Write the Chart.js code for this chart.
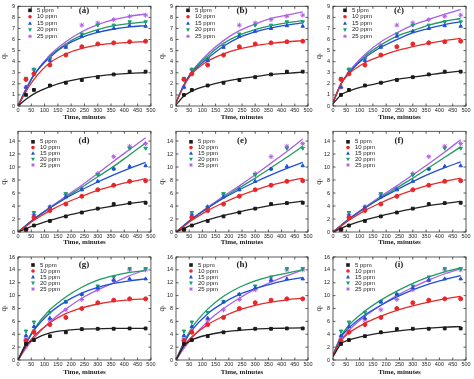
<!DOCTYPE html>
<html><head><meta charset="utf-8">
<script src="https://cdn.jsdelivr.net/npm/chart.js@4/dist/chart.umd.min.js"></script>
<style>
html,body{margin:0;padding:0;background:#fff;width:474px;height:379px;overflow:hidden;}
canvas{position:absolute;}
</style></head><body>
<script>
// ---------------- DATA ----------------
const series = ['5 ppm','10 ppm','15 ppm','20 ppm','25 ppm'];
const panelLabels = ['(a)','(b)','(c)','(d)','(e)','(f)','(g)','(h)','(i)'];
const times = [30,60,120,180,240,300,360,420,480];
const fitX = [0,30,60,120,180,240,300,360,420,480];
const xTicks = [0,50,100,150,200,250,300,350,400,450,500];
const yTicksRow1 = [0,1,2,3,4,5,6,7,8,9];
const yTicksRow2 = [0,2,4,6,8,10,12,14];
const yTicksRow3 = [0,2,4,6,8,10,12,14,16];

// experimental points (rows share the same data)
const ptsRow1 = [
  [1.0,1.45,1.85,2.1,2.35,2.6,2.85,3.1,3.1],
  [2.4,2.9,3.7,4.6,5.35,5.6,5.7,5.8,5.85],
  [1.7,3.0,4.1,5.3,6.3,6.75,7.0,7.25,7.2],
  [2.5,3.3,4.3,5.4,6.5,7.3,7.3,7.6,7.6],
  [1.7,3.3,4.3,5.5,7.3,7.5,7.8,8.1,8.2]
];
const ptsRow2 = [
  [0.4,1.0,1.7,2.4,3.0,3.6,4.3,4.45,4.5],
  [0.4,2.2,3.3,4.3,5.5,6.5,7.2,7.8,7.9],
  [0.3,2.5,3.8,5.4,6.5,7.8,9.7,10.1,10.2],
  [0.3,3.0,3.7,5.9,6.6,8.8,9.7,12.9,12.9],
  [0.3,2.7,3.9,5.8,6.7,9.0,11.6,13.2,13.6]
];
const ptsRow3 = [
  [2.5,3.1,3.7,4.3,4.8,4.85,4.85,4.9,4.9],
  [3.0,4.3,5.5,6.6,8.0,8.9,9.3,9.5,9.5],
  [3.8,5.2,6.5,9.0,10.2,11.2,12.4,12.6,12.6],
  [4.5,5.9,7.4,9.1,10.2,11.5,12.9,14.2,14.2],
  [3.3,4.5,6.2,7.8,9.4,10.9,12.4,14.0,14.0]
];

// model curves read at fitX
const fitA = [
  [0,0.6,1.1,1.75,2.2,2.5,2.7,2.85,2.95,3.0],
  [0,1.3,2.4,3.9,4.7,5.2,5.5,5.65,5.75,5.8],
  [0,1.5,2.8,4.4,5.5,6.2,6.65,6.95,7.15,7.25],
  [0,1.5,2.8,4.5,5.6,6.4,6.9,7.25,7.45,7.6],
  [0,1.5,2.8,4.6,5.8,6.7,7.35,7.8,8.1,8.3]
];
const fitB = [
  [0.1,0.9,1.35,1.85,2.2,2.45,2.65,2.85,2.95,3.05],
  [0.3,1.8,2.9,4.05,4.7,5.15,5.45,5.65,5.8,5.9],
  [0.3,1.9,3.0,4.3,5.4,6.2,6.7,7.05,7.3,7.5],
  [0.3,1.9,3.1,4.5,5.65,6.4,6.9,7.25,7.5,7.7],
  [0.3,1.9,3.1,4.7,5.9,6.8,7.4,7.9,8.2,8.5]
];
const fitC = [
  [0.2,1.0,1.35,1.8,2.1,2.4,2.6,2.8,3.0,3.15],
  [0.3,2.0,2.9,3.9,4.5,5.0,5.35,5.65,5.9,6.1],
  [0.3,2.0,3.0,4.35,5.3,6.0,6.6,7.0,7.35,7.6],
  [0.3,2.0,3.0,4.5,5.5,6.3,6.8,7.3,7.65,7.9],
  [0.3,2.0,3.1,4.65,5.8,6.6,7.3,7.8,8.3,8.7]
];
const fitD = [
  [0,0.5,1.0,1.8,2.5,3.05,3.6,4.0,4.4,4.7],
  [0,0.9,1.8,3.3,4.5,5.5,6.4,7.1,7.7,8.2],
  [0,1.0,2.0,3.7,5.2,6.5,7.7,8.8,9.8,10.7],
  [0,1.0,2.0,3.7,5.3,6.9,8.5,10.1,11.9,13.7],
  [0,1.0,2.0,3.8,5.5,7.2,9.0,10.9,12.7,14.5]
];
const fitE = [
  [0,0.55,1.05,1.85,2.55,3.1,3.65,4.1,4.45,4.75],
  [0,0.9,1.8,3.3,4.5,5.55,6.45,7.2,7.8,8.3],
  [0,1.0,2.0,3.7,5.2,6.5,7.7,8.8,9.8,10.7],
  [0,1.0,2.0,3.7,5.3,6.8,8.3,9.9,11.5,13.2],
  [0,1.0,2.0,3.8,5.5,7.1,8.8,10.6,12.4,14.3]
];
const fitF = [
  [0,0.55,1.05,1.85,2.5,3.05,3.6,4.05,4.4,4.7],
  [0,0.9,1.8,3.3,4.5,5.55,6.45,7.2,7.8,8.3],
  [0,1.0,2.0,3.7,5.2,6.5,7.75,8.9,9.9,10.8],
  [0,1.0,2.0,3.7,5.3,6.8,8.3,9.9,11.5,13.1],
  [0,1.0,2.0,3.8,5.5,7.1,8.8,10.5,12.3,14.2]
];
const fitG = [
  [0,2.3,3.2,4.2,4.6,4.8,4.85,4.9,4.9,4.9],
  [0,2.1,3.7,5.8,7.2,8.1,8.7,9.1,9.35,9.5],
  [0,2.5,4.6,7.3,9.1,10.4,11.3,11.9,12.3,12.6],
  [0,2.6,4.8,7.8,9.8,11.3,12.4,13.1,13.6,13.9],
  [0,1.8,3.4,5.9,7.9,9.6,10.9,12.0,13.1,14.0]
];
const fitH = [
  [0,2.2,3.1,3.9,4.35,4.6,4.8,4.9,4.95,5.0],
  [0,2.2,3.6,5.5,6.8,7.8,8.5,9.0,9.35,9.6],
  [0,2.6,4.6,7.2,8.9,10.2,11.1,11.8,12.4,12.8],
  [0,2.8,5.0,7.9,9.9,11.3,12.3,13.0,13.5,14.0],
  [0,1.8,3.4,6.0,8.0,9.6,11.0,12.1,13.1,14.0]
];
const fitI = [
  [0.5,2.5,3.1,3.75,4.2,4.5,4.75,4.95,5.1,5.2],
  [0.8,3.0,4.2,5.7,6.8,7.7,8.4,9.0,9.5,9.9],
  [0.8,3.5,5.0,7.0,8.5,9.8,10.9,11.8,12.5,13.1],
  [0.8,3.7,5.4,7.6,9.3,10.7,11.9,12.9,13.7,14.3],
  [0.8,3.0,4.6,6.8,8.5,10.0,11.3,12.4,13.4,14.2]
];
const yMaxRows = [9, 15.5, 16];

// ---------------- STYLE ----------------
const ptColors = ['#1a1a1a','#e8262a','#2050d8','#15a070','#b060e8'];
const lnColors = ['#222222','#e52a2a','#1f4fd8','#1f9a60','#a85ee6'];
const ptStyles = ['rect','circle','triangle','triangle','star'];
const ptRot = [0,0,0,180,0];

const colsGeo = [{left:0,w:157,padR:6},{left:158,w:157,padR:7},{left:315,w:159,padR:8}];
const rowsGeo = [
  {top:0,h:124,padT:3,padB:3,xh:15,legY:4,legDy:6.5,mx:12,tx:19,labY:4},
  {top:125,h:124,padT:2,padB:3,xh:14,legY:10.5,legDy:5.8,mx:15,tx:22,labY:9},
  {top:250,h:129,padT:7,padB:3,xh:16,legY:8,legDy:6,mx:15,tx:22,labY:8}
];
const fits = [fitA,fitB,fitC,fitD,fitE,fitF,fitG,fitH,fitI];
const ptsRows = [ptsRow1,ptsRow2,ptsRow3];
const yTicksRows = [yTicksRow1,yTicksRow2,yTicksRow3];

function drawMarker(ctx,style,rot,x,y,r,color){
  ctx.save();
  ctx.fillStyle=color;ctx.strokeStyle=color;ctx.lineWidth=1;
  ctx.beginPath();
  if(style==='rect'){ctx.fillRect(x-r,y-r,2*r,2*r);}
  else if(style==='circle'){ctx.arc(x,y,r,0,Math.PI*2);ctx.fill();}
  else if(style==='triangle'){
    const s = rot===180?-1:1;
    ctx.moveTo(x,y-s*r*1.2);ctx.lineTo(x+r*1.1,y+s*r*0.8);ctx.lineTo(x-r*1.1,y+s*r*0.8);ctx.closePath();ctx.fill();
  } else {
    ctx.moveTo(x-r,y);ctx.lineTo(x+r,y);ctx.moveTo(x,y-r);ctx.lineTo(x,y+r);
    ctx.moveTo(x-r*0.7,y-r*0.7);ctx.lineTo(x+r*0.7,y+r*0.7);
    ctx.moveTo(x-r*0.7,y+r*0.7);ctx.lineTo(x+r*0.7,y-r*0.7);ctx.stroke();
  }
  ctx.restore();
}

const framePlugin = {
  id:'frame',
  afterDraw(chart){
    const ctx=chart.ctx, a=chart.chartArea, o=chart.options.plugins.frame;
    ctx.save();
    ctx.strokeStyle='#333';ctx.lineWidth=0.8;
    ctx.strokeRect(a.left,a.top,a.right-a.left,a.bottom-a.top);
    const xs=chart.scales.x, ys=chart.scales.y;
    ctx.beginPath();
    xs.ticks.forEach(t=>{const px=xs.getPixelForValue(t.value);
      ctx.moveTo(px,a.bottom);ctx.lineTo(px,a.bottom-2.5);
      ctx.moveTo(px,a.top);ctx.lineTo(px,a.top+2.5);});
    ys.ticks.forEach(t=>{const py=ys.getPixelForValue(t.value);
      ctx.moveTo(a.left,py);ctx.lineTo(a.left+2.5,py);
      ctx.moveTo(a.right,py);ctx.lineTo(a.right-2.5,py);});
    ctx.stroke();
    // legend
    ctx.font='6px "Liberation Sans", Arial, sans-serif';
    ctx.textBaseline='middle';ctx.textAlign='left';ctx.fillStyle='#222';
    series.forEach((s,i)=>{
      const y=a.top+o.legY+i*o.legDy;
      drawMarker(ctx,ptStyles[i],ptRot[i],a.left+o.mx,y,1.8,ptColors[i]);
      ctx.fillStyle='#222';
      ctx.fillText(s,a.left+o.tx,y);
    });
    ctx.font='bold 9px "Liberation Serif", "Times New Roman", serif';
    ctx.textAlign='center';
    ctx.fillText(o.label,a.left+66,a.top+o.labY);
    ctx.restore();
  }
};

panelLabels.forEach((lab,p)=>{
  const r=Math.floor(p/3), c=p%3;
  const rg=rowsGeo[r], cg=colsGeo[c];
  const cv=document.createElement('canvas');
  cv.width=cg.w;cv.height=rg.h;
  cv.style.left=cg.left+'px';cv.style.top=rg.top+'px';
  cv.style.width=cg.w+'px';cv.style.height=rg.h+'px';
  document.body.appendChild(cv);
  const datasets=[];
  series.forEach((s,i)=>{
    datasets.push({
      label:s+' fit', type:'line',
      data: fitX.map((x,k)=>({x:x,y:fits[p][i][k]})),
      borderColor:lnColors[i], borderWidth:1.3, pointRadius:0,
      cubicInterpolationMode:'monotone', fill:false, order:1
    });
  });
  series.forEach((s,i)=>{
    datasets.push({
      label:s, type:'scatter',
      data: times.map((x,k)=>({x:x,y:ptsRows[r][i][k]})),
      backgroundColor:ptColors[i], borderColor:ptColors[i],
      pointStyle:ptStyles[i], rotation:ptRot[i],
      pointRadius: ptStyles[i]==='star'?2.4:2, borderWidth:1, order:0
    });
  });
  new Chart(cv,{
    type:'scatter',
    data:{datasets},
    plugins:[framePlugin],
    options:{
      responsive:false, animation:false, devicePixelRatio:1,
      layout:{padding:{top:rg.padT,right:cg.padR,left:0,bottom:rg.padB}},
      plugins:{legend:{display:false},tooltip:{enabled:false},
        frame:{label:lab,legY:rg.legY,legDy:rg.legDy,mx:rg.mx,tx:rg.tx,labY:rg.labY}},
      scales:{
        x:{type:'linear',min:0,max:500,
          afterBuildTicks:(s)=>{s.ticks=xTicks.map(v=>({value:v}));},
          afterFit:(s)=>{s.height=rg.xh;},
          grid:{display:false,drawTicks:false},border:{display:false},
          ticks:{font:{size:5.5,family:'"Liberation Sans", Arial, sans-serif'},color:'#222',padding:1.5,maxRotation:0,autoSkip:false},
          title:{display:true,text:'Time, minutes',font:{size:7,weight:'bold',family:'"Liberation Serif", "Times New Roman", serif'},color:'#222',padding:{top:0,bottom:0}}
        },
        y:{type:'linear',min:0,max:yMaxRows[r],
          afterBuildTicks:(s)=>{s.ticks=yTicksRows[r].map(v=>({value:v}));},
          ticks:{font:{size:5.5,family:'"Liberation Sans", Arial, sans-serif'},color:'#222',padding:3,autoSkip:false},
          afterFit:(s)=>{s.width=18;},
          grid:{display:false,drawTicks:false},border:{display:false},
          title:{display:true,text:'qₜ',font:{size:7,family:'"DejaVu Serif", serif'},color:'#222',padding:{top:0,bottom:0}}
        }
      }
    }
  });
});
</script>
</body></html>
